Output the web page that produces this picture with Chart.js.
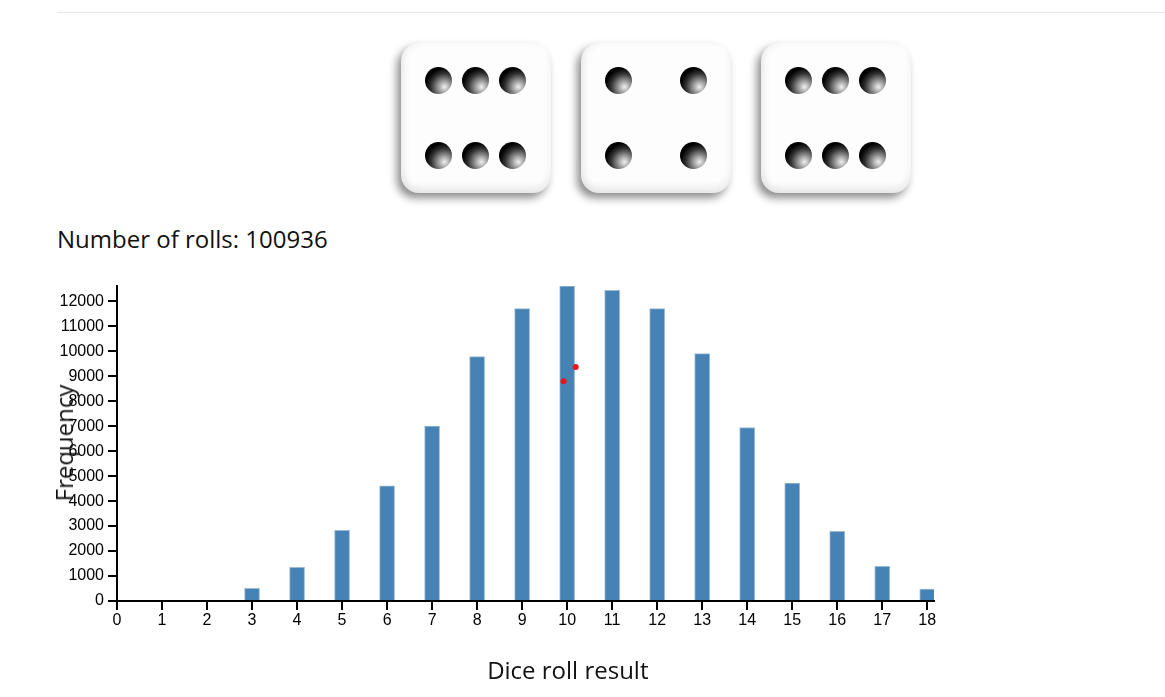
<!DOCTYPE html>
<html>
<head>
<meta charset="utf-8">
<script src="https://cdn.jsdelivr.net/npm/chart.js@4"></script>
<style>
  html, body { margin: 0; padding: 0; background: #fff; }
  body { width: 1165px; height: 697px; position: relative; overflow: hidden; font-family: "Open Sans", sans-serif; color: #111; }
  .rule { position: absolute; left: 57px; right: 0; top: 12px; height: 0; border-top: 1px solid #e8e8e8; }
  .die { position: absolute; top: 43px; width: 150px; height: 150px; border-radius: 18px; background: #fdfdfd;
         box-shadow: inset 0 -6px 7px rgba(0,0,0,0.07), inset 5px 0 6px rgba(0,0,0,0.04), -4px 5px 8px rgba(0,0,0,0.45); }
  .pip { position: absolute; width: 27px; height: 27px; margin: -13.5px 0 0 -13.5px; border-radius: 50%;
         background: radial-gradient(circle at 72% 74%, #f0f0f0 0%, #9a9a9a 22%, #333 48%, #000 68%); }
  .txt { position: absolute; font-size: 24px; line-height: 24px; white-space: nowrap; }
  #wrap { position: absolute; left: 0; top: 260px; width: 1165px; height: 437px; }
</style>
</head>
<body>
<div class="rule"></div>
<div id="dice"></div>
<div class="txt" id="rolls" style="left:57px; top:227px;"></div>
<div id="wrap"><canvas id="c"></canvas></div>
<div class="txt" id="ytitle" style="left:63.7px; top:442.5px; transform: translate(-50%,-50%) rotate(-90deg);"></div>
<div class="txt" id="xtitle" style="left:567.8px; top:658px; transform: translateX(-50%);"></div>
<script>
// ---- data ----
const diceFaces = [6, 4, 6];
const rollCount = 100936;
const rollResults = [3, 4, 5, 6, 7, 8, 9, 10, 11, 12, 13, 14, 15, 16, 17, 18];
const frequencies = [507, 1347, 2827, 4613, 7000, 9787, 11707, 12613, 12440, 11707, 9907, 6947, 4720, 2787, 1387, 480];
const xTickValues = [0, 1, 2, 3, 4, 5, 6, 7, 8, 9, 10, 11, 12, 13, 14, 15, 16, 17, 18];
const yTickValues = [0, 1000, 2000, 3000, 4000, 5000, 6000, 7000, 8000, 9000, 10000, 11000, 12000];
const markerX = [9.92, 10.19];
const markerY = [8800, 9373];
const xTitle = "Dice roll result";
const yTitle = "Frequency";

// ---- dice ----
const pipLayouts = {
  1: [[75, 75]],
  2: [[37, 37], [112, 112]],
  3: [[37, 37], [75, 75], [112, 112]],
  4: [[37.5, 37], [112.5, 37], [37.5, 112], [112.5, 112]],
  5: [[37, 37], [112, 37], [75, 75], [37, 112], [112, 112]],
  6: [[37, 37], [74, 37], [111, 37], [37, 112], [74, 112], [111, 112]]
};
const diceEl = document.getElementById('dice');
diceFaces.forEach((face, i) => {
  const d = document.createElement('div');
  d.className = 'die';
  d.style.left = (401 + i * 180) + 'px';
  pipLayouts[face].forEach(([px, py]) => {
    const p = document.createElement('div');
    p.className = 'pip';
    p.style.left = px + 'px';
    p.style.top = py + 'px';
    d.appendChild(p);
  });
  diceEl.appendChild(d);
});
document.getElementById('rolls').textContent = 'Number of rolls: ' + rollCount;
document.getElementById('xtitle').textContent = xTitle;
document.getElementById('ytitle').textContent = yTitle;

// ---- chart ----
const tickFont = { family: "'Liberation Sans', Arial, sans-serif", size: 16 };
new Chart(document.getElementById('c'), {
  type: 'bar',
  data: {
    datasets: [
      {
        type: 'line',
        data: markerX.map((x, i) => ({ x: x, y: markerY[i] })),
        showLine: false,
        pointRadius: 3,
        pointHoverRadius: 3,
        pointBackgroundColor: '#e8161e',
        pointBorderWidth: 0,
        order: 0
      },
      {
        type: 'bar',
        data: rollResults.map((r, i) => ({ x: r, y: frequencies[i] })),
        backgroundColor: '#4682b4',
        borderColor: '#9bbad6',
        borderWidth: 1,
        borderSkipped: 'bottom',
        barThickness: 15,
        order: 1
      }
    ]
  },
  options: {
    responsive: true,
    maintainAspectRatio: false,
    animation: false,
    layout: { padding: { top: 26, right: 231, bottom: 0, left: 0 } },
    plugins: { legend: { display: false }, tooltip: { enabled: false } },
    scales: {
      x: {
        type: 'linear',
        min: 0,
        max: 18.15,
        offset: false,
        afterFit: s => { s.height = 96; },
        afterBuildTicks: s => { s.ticks = xTickValues.map(v => ({ value: v })); },
        ticks: { autoSkip: false, maxRotation: 0, color: '#000', font: tickFont, padding: 1, callback: v => String(v) },
        grid: { offset: false, drawOnChartArea: false, drawTicks: true, tickLength: 9, color: '#000', lineWidth: 2 },
        border: { display: true, color: '#000', width: 2 }
      },
      y: {
        min: 0,
        max: Math.max(...frequencies),
        afterFit: s => { s.width = 117; },
        afterBuildTicks: s => { s.ticks = yTickValues.map(v => ({ value: v })); },
        ticks: { autoSkip: false, color: '#000', font: tickFont, padding: 4, callback: v => String(v) },
        grid: { drawOnChartArea: false, drawTicks: true, tickLength: 9, color: '#000', lineWidth: 2 },
        border: { display: true, color: '#000', width: 2 }
      }
    }
  }
});
</script>
</body>
</html>
